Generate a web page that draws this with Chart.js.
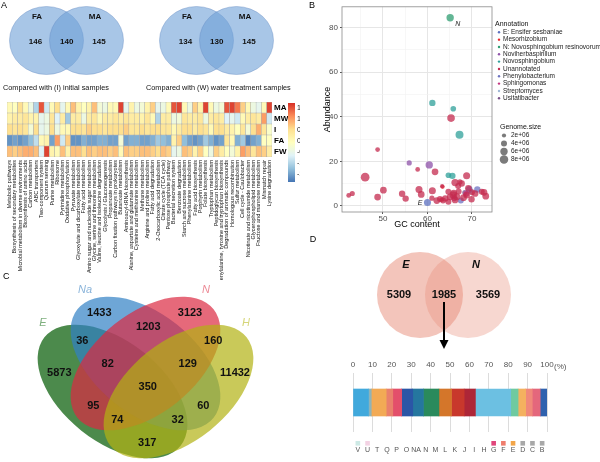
<!DOCTYPE html>
<html>
<head>
<meta charset="utf-8">
<script src="https://cdn.jsdelivr.net/npm/chart.js@4.4.1/dist/chart.umd.min.js"></script>
<style>
  html, body { margin: 0; padding: 0; background: #fff; }
  #wrap { position: relative; width: 600px; height: 462px; overflow: hidden; }
  canvas { position: absolute; }
</style>
</head>
<body>
<div id="wrap">
  <canvas id="heat" width="310" height="280" style="left:0;top:0"></canvas>
  <canvas id="vennC" width="300" height="202" style="left:0;top:260px"></canvas>
  <canvas id="scatter" width="300" height="230" style="left:300px;top:0"></canvas>
  <canvas id="cog" width="300" height="232" style="left:300px;top:230px"></canvas>
</div>
<script>
// ---- panel A: venn counts ----
const vennASets = ['FA', 'MA'];
const vennACounts = [[146, 140, 145], [134, 130, 145]];
const vennACaptions = ['Compared with (I) initial samples', 'Compared with (W) water treatment samples'];

// ---- panel A: heatmap ----
const hmRows = ['MA', 'MW', 'I', 'FA', 'FW'];
const hmPathways = ['Metabolic pathways', 'Biosynthesis of secondary metabolites', 'Microbial metabolism in diverse environments',
  'Biosynthesis of amino acids', 'Carbon metabolism', 'ABC transporters', 'Two-component system', 'Quorum sensing',
  'Purine metabolism', 'Ribosome', 'Pyrimidine metabolism', 'Oxidative phosphorylation', 'Pyruvate metabolism',
  'Glyoxylate and dicarboxylate metabolism', 'Fatty acid metabolism', 'Amino sugar and nucleotide sugar metabolism',
  'Glycine, serine and threonine metabolism', 'Valine, leucine and isoleucine degradation', 'Glycolysis / Gluconeogenesis',
  'Propanoate metabolism', 'Carbon fixation pathways in prokaryotes', 'Butanoate metabolism', 'Aminoacyl-tRNA biosynthesis',
  'Alanine, aspartate and glutamate metabolism', 'Cysteine and methionine metabolism', 'Methane metabolism',
  'Arginine and proline metabolism', 'Fatty acid degradation', '2-Oxocarboxylic acid metabolism', 'Citrate cycle (TCA cycle)',
  'Pentose phosphate pathway', 'Bacterial secretion system', 'Benzoate degradation', 'Starch and sucrose metabolism',
  'Phenylalanine metabolism', 'Fatty acid biosynthesis', 'Porphyrin metabolism', 'Folate biosynthesis',
  'Tryptophan metabolism', 'Peptidoglycan biosynthesis', 'Phenylalanine, tyrosine and tryptophan biosynthesis',
  'Degradation of aromatic compounds', 'Homologous recombination', 'Sulfur metabolism', 'Cell cycle - Caulobacter',
  'Nicotinate and nicotinamide metabolism', 'Glycerophospholipid metabolism', 'Fructose and mannose metabolism',
  'Mismatch repair', 'Lysine degradation'];
const hmMA = [0.1, 0.0, 0.5, 0.1, -0.3, -0.8, 1.3, -0.6, 0.1, 0.5, -0.4, 0.1, 0.7, 0.2, 0.0, 0.2, 0.7, -0.2, -0.3, 0.1,
  0.1, 1.4, -0.4, 0.2, -0.3, -0.2, 0.2, 0.6, -0.4, -0.3, 0.1, 1.3, 1.4, 0.1, -0.3, 0.6, 0.2, 1.4, 0.1, -0.3,
  -0.2, 1.3, 1.4, 1.1, 0.6, 0.1, -0.3, -0.4, 0.1, 1.4];
const hmMW = [0.2, 0.3, 0.3, 0.4, 0.2, 0.2, -0.4, -0.3, 0.4, -0.5, 0.3, -0.9, 0.3, 0.3, -0.3, 0.3, 0.4, 0.1, 0.3, 0.3,
  0.4, 0.3, 0.4, 0.3, 0.3, 0.2, 0.4, 0.1, -0.8, 0.3, 0.3, -0.3, -0.2, 0.4, 0.3, 0.3, 0.4, -0.3, 0.3, 0.4,
  0.3, -0.5, -0.4, -0.6, 0.1, 0.3, 0.4, 0.3, 0.9, -0.6];
const hmI = [0.5, 0.4, 0.5, 0.4, -0.2, 0.5, -0.4, -0.3, 0.5, -0.3, 0.1, 0.1, 0.5, 0.5, 0.4, 0.6, 0.5, 0.5, 0.4, 0.5,
  0.5, 0.5, 0.6, 0.4, 0.4, 0.5, 0.4, 0.5, 0.5, 0.4, 0.4, 0.1, 0.3, 0.5, 0.5, 0.3, 0.5, 0.4, 0.1, 0.5,
  0.5, 0.3, 0.2, 0.0, 0.4, -0.2, 0.5, 0.8, 0.4, -0.1];
const hmFA = [-1.3, -1.2, -1.3, -1.2, -1.0, -0.7, 0.1, 0.2, -1.2, 0.9, -0.6, 0.6, -1.3, -1.3, -1.1, -1.2, -1.2, -1.1, -1.1, -1.2,
  -1.2, -0.2, -1.2, -1.1, -1.1, -1.2, -1.2, -1.1, -0.9, -1.0, -1.1, 0.2, 0.6, -1.0, -1.2, -1.3, -1.2, -0.9, -1.1, -1.3,
  -1.2, 0.4, 0.1, -1.1, -0.9, -1.4, -1.2, -1.1, 0.0, 0.0];
const hmFW = [0.7, 0.6, 0.7, 0.8, 0.8, 0.7, -0.5, 1.4, 0.2, 0.1, 0.7, 0.2, 0.7, 0.7, 0.5, 0.7, 0.6, 0.7, 0.7, 0.6,
  0.7, 0.1, 0.7, 0.6, 0.6, 0.7, 0.7, 0.6, 0.5, 0.7, 0.6, -0.4, -0.3, 0.7, 0.6, 0.2, 0.6, 0.0, -0.3, 0.6,
  0.3, 0.0, -0.2, 0.2, 0.9, 0.7, 0.4, 0.7, 0.6, 0.3];
const hmLegendTicks = [1.5, 1, 0.5, 0, -0.5, -1, -1.5];

// ---- panel B: MAG scatter ----
const bGroups = ['E: Ensifer sesbaniae', 'Mesorhizobium', 'N: Novosphingobium resinovorum', 'Noviherbaspirillum',
  'Novosphingobium', 'Unannotated', 'Phenylobacterium', 'Sphingomonas', 'Streptomyces', 'Usitatibacter'];
const bGroupTag = ['E', '', 'N', '', '', '', '', '', '', ''];
const bGc = [65.3, 48.8, 57.8, 61.7, 46.0, 68.8, 66.2, 67.7, 66.9, 63.3, 69.2, 58.1, 61.1, 50.1, 64.7, 43.1, 42.3, 54.3,
  58.6, 55.1, 48.8, 70.7, 72.2, 72.7, 73.1, 62.1, 62.8, 64.0, 63.5, 65.1, 65.8, 66.6, 66.2, 64.7, 68.1, 68.8, 69.9,
  67.3, 61.0, 70.0, 65.9, 67.0,
  63.4, 63.2, 65.1, 55.9, 60.4, 61.1, 65.8, 67.2, 64.7, 65.6, 60.0, 69.4, 71.2, 67.5, 66.0, 68.7, 69.6, 68.4];
const bAbund = [39.4, 25.3, 16.4, 15.3, 12.9, 13.6, 10.5, 10.1, 9.0, 8.9, 7.9, 7.4, 6.8, 7.1, 6.4, 5.6, 4.7, 5.5,
  5.2, 3.3, 4.0, 5.6, 6.4, 6.1, 4.4, 2.4, 3.1, 3.4, 2.4, 4.1, 4.9, 4.1, 2.7, 1.9, 3.7, 4.9, 3.0,
  10.8, 3.5, 6.2, 5.8, 6.5,
  8.6, 2.8, 84.4, 19.3, 18.4, 46.2, 43.6, 31.9, 13.8, 13.5, 1.6, 7.4, 7.4, 2.4, 3.5, 5.5, 6.6, 6.0];
const bSize = [6.5, 2.5, 2.5, 5, 8.5, 5.5, 6, 4.5, 4, 2, 5, 5.5, 5.5, 5, 4, 3, 2.5, 4.5,
  5, 4.5, 5, 5, 4, 5, 5, 5, 4, 4.5, 4, 5, 6, 5.5, 5, 4, 5, 5, 4.5,
  3, 3, 4, 5, 4,
  2, 2.5, 6, 3, 6, 4.5, 3.5, 7, 3.5, 4.5, 5.5, 5, 4.5, 4, 4, 4, 3.5, 3];
const bGroup = [5, 5, 5, 5, 5, 5, 5, 5, 5, 5, 5, 5, 5, 5, 5, 5, 5, 5,
  5, 5, 5, 5, 5, 5, 5, 5, 5, 5, 5, 5, 5, 5, 5, 5, 5, 5, 5,
  5, 5, 5, 5, 5,
  1, 1, 2, 3, 3, 4, 4, 4, 4, 4, 0, 6, 6, 6, 7, 7, 8, 9];
const bSizeLegend = [2, 4, 6, 8];
const bXTicks = [45, 50, 55, 60, 65, 70];
const bYTicks = [0, 10, 20, 30, 40, 50, 60, 70, 80];

// ---- panel C: four-set venn ----
const vennCSets = ['E', 'Na', 'N', 'H'];
const vennCCounts = [1433, 1203, 3123, 36, 160, 82, 129, 5873, 11432, 350, 95, 60, 74, 32, 317];

// ---- panel D: venn + COG shares ----
const vennDSets = ['E', 'N'];
const vennDCounts = [5309, 1985, 3569];
const dShares = [8.0, 1.4, 7.7, 3.4, 4.6, 5.7, 5.5, 8.0, 6.5, 6.5, 5.8, 18.2, 3.8, 3.9, 3.4, 4.1, 3.5];
const dLetters = ['V', 'U', 'T', 'Q', 'P', 'O', 'NA', 'N', 'M', 'L', 'K', 'J', 'I', 'H', 'G', 'F', 'E', 'D', 'C', 'B'];

// styles
const FONT = '"Liberation Sans", Arial, Helvetica, sans-serif';
Chart.defaults.font.family = FONT;
Chart.defaults.animation = false;
const hmStops = ['#4575b4', '#91bfdb', '#e0f3f8', '#ffffbf', '#fee090', '#fc8d59', '#d73027'];
const bColors = ['#5b6fbf', '#e8282b', '#2f9e72', '#8e52a8', '#2fa09a', '#c42b4f', '#6c72c0', '#c2357f', '#9fb8d6', '#7a4f87'];
const dColors = ['#41a9dc', '#8fb3b8', '#f2aa55', '#e9806c', '#e34f6b', '#2b56a6', '#25779f', '#2a8a5c', '#d4762a',
  '#c8382c', '#ad2637', '#6cc0e2', '#6fcaa0', '#f4b15f', '#f0887a', '#e4677c', '#2f62ae'];
const dLetterSwatch = ['#cde9e5', '#f3d2e3', null, null, null, null, null, null, null, null, null, null, null, null,
  '#e0457a', '#ef7d6d', '#f2a548', '#a8a8a8', '#a8a8a8', '#a8a8a8'];

function hexRgb(h) { return [1, 3, 5].map(i => parseInt(h.slice(i, i + 2), 16)); }
function rgba(h, a) { const c = hexRgb(h); return `rgba(${c[0]},${c[1]},${c[2]},${a})`; }
function hmColor(v) {
  const t = Math.max(0, Math.min(1, (v + 1.5) / 3)) * (hmStops.length - 1);
  const i = Math.min(Math.floor(t), hmStops.length - 2), f = t - i;
  const a = hexRgb(hmStops[i]), b = hexRgb(hmStops[i + 1]);
  return `rgb(${a.map((x, k) => Math.round(x + (b[k] - x) * f)).join(',')})`;
}
function txt(c, s, x, y, font, color, align) {
  c.font = font; c.fillStyle = color; c.textAlign = align || 'center'; c.textBaseline = 'middle';
  c.fillText(s, x, y);
}

// ---------- heatmap + venn A ----------
const heatExtras = {
  id: 'heatExtras',
  afterDraw(chart) {
    const c = chart.ctx;
    c.save();
    txt(c, 'A', 1, 6, '9px ' + FONT, '#000', 'left');
    vennACounts.forEach((counts, k) => {
      const ox = k * 150;
      [46.5, 86.5].forEach(cx => {
        c.beginPath();
        c.ellipse(cx + ox, 40.5, 37, 34, 0, 0, Math.PI * 2);
        c.fillStyle = 'rgba(110,160,215,0.6)';
        c.fill();
        c.strokeStyle = 'rgba(100,140,195,0.7)';
        c.lineWidth = 0.6;
        c.stroke();
      });
      txt(c, vennASets[0], 37 + ox, 17, 'bold 8px ' + FONT, '#111');
      txt(c, vennASets[1], 95 + ox, 17, 'bold 8px ' + FONT, '#111');
      [35.5, 66.7, 99].forEach((x, i) => txt(c, String(counts[i]), x + ox, 42, 'bold 8px ' + FONT, '#111'));
      txt(c, vennACaptions[k], 3 + ox - (k ? 7 : 0), 88, '7.3px ' + FONT, '#111', 'left');
    });
    // colour key
    const top = 103, bot = 182;
    const g = c.createLinearGradient(0, top, 0, bot);
    hmStops.slice().reverse().forEach((s, i) => g.addColorStop(i / (hmStops.length - 1), s));
    c.fillStyle = g;
    c.fillRect(288, top, 7, bot - top);
    c.beginPath();
    c.rect(0, 0, 300, 280);
    c.clip();
    hmLegendTicks.forEach(v => txt(c, String(v), 297, 141 - v * 22, '7px ' + FONT, '#222', 'left'));
    c.restore();
  }
};

const hmSeries = { MA: hmMA, MW: hmMW, I: hmI, FA: hmFA, FW: hmFW };
new Chart(document.getElementById('heat'), {
  type: 'bar',
  data: {
    labels: hmPathways,
    datasets: hmRows.slice().reverse().map(r => ({
      label: r,
      data: hmPathways.map(() => 1),
      backgroundColor: hmSeries[r].map(hmColor),
      borderColor: '#a9a9a9',
      borderWidth: 0.5,
      borderSkipped: false,
      barPercentage: 1,
      categoryPercentage: 1
    }))
  },
  options: {
    responsive: false,
    layout: { padding: { left: 7, top: 102 } },
    plugins: { legend: { display: false }, tooltip: { enabled: false } },
    scales: {
      x: {
        stacked: true,
        grid: { display: false, drawTicks: false },
        border: { display: false },
        ticks: { autoSkip: false, minRotation: 90, maxRotation: 90, padding: 3, font: { size: 5.5 }, color: '#111' },
        afterFit: s => { s.height = 123; }
      },
      y: {
        stacked: true, position: 'right', min: 0, max: hmRows.length,
        grid: { display: false, drawTicks: false },
        border: { display: false },
        afterBuildTicks: s => { s.ticks = hmRows.map((r, i) => ({ value: hmRows.length - 0.5 - i })); },
        ticks: {
          callback: v => hmRows[Math.round(hmRows.length - 0.5 - v)],
          font: { size: 8, weight: 'bold' }, color: '#000', padding: 2
        },
        afterFit: s => { s.width = 38; }
      }
    }
  },
  plugins: [heatExtras]
});

// ---------- scatter B ----------
const sizeR = s => 1.5 * Math.sqrt(s);
const bPoints = bGc.map((x, i) => ({ x, y: bAbund[i], s: bSize[i], g: bGroup[i] }));
const drawOrder = [5, 1, 7, 6, 8, 9, 3, 4, 2, 0];

const scatterExtras = {
  id: 'scatterExtras',
  beforeDatasetsDraw(chart) {
    const c = chart.ctx, a = chart.chartArea;
    c.save();
    c.strokeStyle = '#8a8a8a';
    c.lineWidth = 0.8;
    c.strokeRect(a.left, a.top, a.right - a.left, a.bottom - a.top);
    c.restore();
  },
  afterDraw(chart) {
    const c = chart.ctx;
    c.save();
    txt(c, 'B', 12, 6, '9px ' + FONT, '#000');
    // point tags
    chart.data.datasets.forEach((ds, di) => {
      const tag = bGroupTag[ds.groupIndex];
      if (!tag) return;
      chart.getDatasetMeta(di).data.forEach(pt => {
        if (tag === 'N') txt(c, tag, pt.x + 5, pt.y + 6, 'italic 7px ' + FONT, '#222', 'left');
        else txt(c, tag, pt.x - 5, pt.y + 1, 'italic 7px ' + FONT, '#222', 'right');
      });
    });
    // legends
    txt(c, 'Annotation', 195, 24, '7px ' + FONT, '#111', 'left');
    bGroups.forEach((g, i) => {
      const y = 32.3 + i * 7.33;
      c.beginPath();
      c.arc(199, y, 1.2, 0, Math.PI * 2);
      c.fillStyle = bColors[i];
      c.fill();
      txt(c, g, 203, y, '6.5px ' + FONT, '#222', 'left');
    });
    txt(c, 'Genome.size', 200, 127, '7px ' + FONT, '#111', 'left');
    bSizeLegend.forEach((s, i) => {
      const y = 135.5 + i * 8;
      c.beginPath();
      c.arc(204, y, sizeR(s), 0, Math.PI * 2);
      c.fillStyle = 'rgba(90,90,90,0.8)';
      c.fill();
      txt(c, s + 'e+06', 211, y, '6.5px ' + FONT, '#222', 'left');
    });
    c.restore();
  }
};

new Chart(document.getElementById('scatter'), {
  type: 'scatter',
  data: {
    datasets: drawOrder.map(g => ({
      label: bGroups[g],
      groupIndex: g,
      data: bPoints.filter(p => p.g === g),
      backgroundColor: rgba(bColors[g], 0.75),
      borderWidth: 0,
      pointRadius: ctx => sizeR(ctx.raw.s),
      pointHoverRadius: ctx => sizeR(ctx.raw.s)
    }))
  },
  options: {
    responsive: false,
    layout: { padding: { top: 5, right: 108, left: 22 } },
    plugins: { legend: { display: false }, tooltip: { enabled: false } },
    scales: {
      x: {
        min: 40.8, max: 74.5,
        afterBuildTicks: s => { s.ticks = bXTicks.map(v => ({ value: v })); },
        ticks: { callback: v => (v % 10 === 0 ? v : ''), font: { size: 8 }, color: '#4d4d4d', padding: 0, maxRotation: 0 },
        grid: {
          color: ctx => (ctx.tick && ctx.tick.value % 10 === 0 ? '#e6e6e6' : '#f2f2f2'),
          lineWidth: ctx => (ctx.tick && ctx.tick.value % 10 === 0 ? 1 : 0.6),
          tickColor: ctx => (ctx.tick && ctx.tick.value % 10 === 0 ? '#555' : 'rgba(0,0,0,0)'),
          tickLength: 2
        },
        border: { display: false },
        title: { display: true, text: 'GC content', font: { size: 9 }, color: '#000', padding: 0 },
        afterFit: s => { s.height = 18; }
      },
      y: {
        min: -2.7, max: 89.3,
        afterBuildTicks: s => { s.ticks = bYTicks.map(v => ({ value: v })); },
        ticks: { callback: v => (v % 20 === 0 ? v : ''), font: { size: 8 }, color: '#4d4d4d', padding: 2 },
        grid: {
          color: ctx => (ctx.tick && ctx.tick.value % 20 === 0 ? '#e6e6e6' : '#f2f2f2'),
          lineWidth: ctx => (ctx.tick && ctx.tick.value % 20 === 0 ? 1 : 0.6),
          tickColor: ctx => (ctx.tick && ctx.tick.value % 20 === 0 ? '#555' : 'rgba(0,0,0,0)'),
          tickLength: 2
        },
        border: { display: false },
        title: { display: true, text: 'Abundance', font: { size: 9 }, color: '#000', padding: 0 },
        afterFit: s => { s.width = 20; }
      }
    }
  },
  plugins: [scatterExtras]
});

// ---------- four-set venn C ----------
const vennCShapes = [
  { cx: 112.5, cy: 131.5, rot: 38.5, fill: 'rgba(0,89,0,0.7)', name: '#7fb07f', nx: 43, ny: 63 },
  { cx: 145.5, cy: 103.5, rot: 38.5, fill: 'rgba(49,128,196,0.7)', name: '#8ab4da', nx: 85, ny: 30 },
  { cx: 145.5, cy: 103.5, rot: -38.5, fill: 'rgba(219,41,65,0.7)', name: '#ec8a96', nx: 206, ny: 30 },
  { cx: 178.5, cy: 131.5, rot: -38.5, fill: 'rgba(178,178,19,0.7)', name: '#d6d67a', nx: 246, ny: 63 }
];
const vennCLabelPos = [[99.3, 52.7], [148.3, 66.7], [190, 52.7], [82.3, 80.7], [213.3, 80.7], [107.7, 104], [187.7, 104],
  [59.3, 113.3], [235, 113.3], [147.7, 127.3], [93.3, 146], [203.3, 146], [117.3, 160], [177.7, 160], [147.3, 182.7]];

const vennCPlugin = {
  id: 'vennC',
  afterDraw(chart) {
    const c = chart.ctx;
    c.save();
    txt(c, 'C', 3, 17, '9px ' + FONT, '#000', 'left');
    vennCShapes.forEach(e => {
      c.beginPath();
      c.ellipse(e.cx, e.cy, 87, 50, e.rot * Math.PI / 180, 0, Math.PI * 2);
      c.fillStyle = e.fill;
      c.fill();
    });
    vennCShapes.forEach((e, i) => txt(c, vennCSets[i], e.nx, e.ny, 'italic 11px ' + FONT, e.name));
    vennCCounts.forEach((n, i) => txt(c, String(n), vennCLabelPos[i][0], vennCLabelPos[i][1], 'bold 11px ' + FONT, '#111'));
    c.restore();
  }
};

new Chart(document.getElementById('vennC'), {
  type: 'scatter',
  data: { datasets: [] },
  options: {
    responsive: false,
    plugins: { legend: { display: false }, tooltip: { enabled: false } },
    scales: { x: { display: false }, y: { display: false } }
  },
  plugins: [vennCPlugin]
});

// ---------- panel D ----------
const cogExtras = {
  id: 'cogExtras',
  afterDraw(chart) {
    const c = chart.ctx;
    c.save();
    txt(c, 'D', 13, 10, '9px ' + FONT, '#000');
    [[120, 'rgba(232,140,120,0.5)'], [168, 'rgba(232,140,120,0.35)']].forEach(([cx, f]) => {
      c.beginPath();
      c.arc(cx, 65, 43, 0, Math.PI * 2);
      c.fillStyle = f;
      c.fill();
    });
    txt(c, vennDSets[0], 106, 35, 'italic bold 11px ' + FONT, '#111');
    txt(c, vennDSets[1], 176, 35, 'italic bold 11px ' + FONT, '#111');
    [99, 144, 188].forEach((x, i) => txt(c, String(vennDCounts[i]), x, 65, 'bold 11px ' + FONT, '#111'));
    // arrow
    c.strokeStyle = '#000';
    c.lineWidth = 2;
    c.beginPath(); c.moveTo(144, 72); c.lineTo(144, 112); c.stroke();
    c.beginPath(); c.moveTo(144, 119); c.lineTo(139.5, 110); c.lineTo(148.5, 110); c.closePath();
    c.fillStyle = '#000'; c.fill();
    // percent unit
    const xs = chart.scales.x;
    txt(c, '(%)', xs.getPixelForValue(100) + 7, 137, '8px ' + FONT, '#555', 'left');
    // letter swatches
    const x2 = chart.scales.x2;
    dLetters.forEach((l, i) => {
      if (!dLetterSwatch[i]) return;
      c.fillStyle = dLetterSwatch[i];
      c.fillRect(x2.getPixelForTick(i) - 2.3, 211, 4.6, 4.6);
    });
    c.restore();
  }
};

new Chart(document.getElementById('cog'), {
  type: 'bar',
  data: {
    labels: ['shared'],
    datasets: dShares.map((v, i) => ({
      data: [v],
      backgroundColor: dColors[i],
      borderWidth: 0,
      barThickness: 27
    }))
  },
  options: {
    indexAxis: 'y',
    responsive: false,
    layout: { padding: { top: 131, left: 53, right: 53, bottom: 0 } },
    plugins: { legend: { display: false }, tooltip: { enabled: false } },
    scales: {
      x: {
        stacked: true, position: 'top', min: 0, max: 100,
        ticks: { stepSize: 10, font: { size: 8 }, color: '#555', padding: 3, maxRotation: 0 },
        grid: { color: '#dcdcdc', drawTicks: false },
        border: { display: false },
        afterFit: s => { s.height = 12; }
      },
      x2: {
        type: 'category', axis: 'x', position: 'bottom', labels: dLetters, offset: true,
        grid: { display: false, drawTicks: false },
        border: { display: false },
        ticks: { font: { size: 7 }, color: '#555', padding: 14, autoSkip: false, maxRotation: 0 },
        afterFit: s => { s.height = 30; }
      },
      y: { stacked: true, display: false }
    }
  },
  plugins: [cogExtras]
});
</script>
</body>
</html>
